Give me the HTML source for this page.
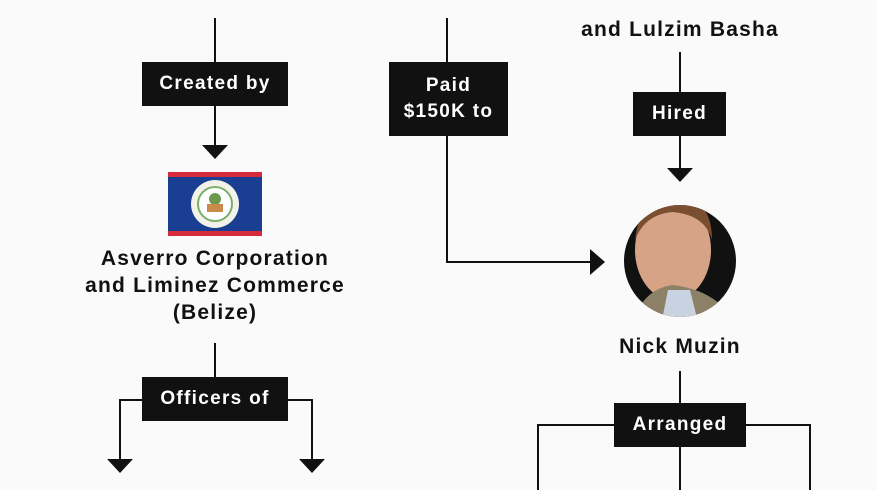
<!DOCTYPE html>
<html><head><style>
html,body{margin:0;padding:0;background:#fafafa;}
body{width:877px;height:490px;position:relative;overflow:hidden;font-family:"Liberation Sans",sans-serif;}
.t{position:absolute;font-weight:bold;font-size:21px;letter-spacing:1.2px;color:#111;text-align:center;line-height:27px;}
.b{position:absolute;background:#111;color:#fff;font-weight:bold;font-size:19px;letter-spacing:1.3px;display:flex;align-items:center;justify-content:center;text-align:center;line-height:26px;}
</style></head><body>
<svg width="877" height="490" style="position:absolute;left:0;top:0">
<g stroke="#111" stroke-width="2" fill="none">
<line x1="215" y1="18" x2="215" y2="62"/>
<line x1="215" y1="106" x2="215" y2="146"/>
<line x1="215" y1="343" x2="215" y2="377"/>
<polyline points="142,400 120,400 120,460"/>
<polyline points="288,400 312,400 312,460"/>
<line x1="447" y1="18" x2="447" y2="62"/>
<polyline points="447,136 447,262 592,262"/>
<line x1="680" y1="52" x2="680" y2="92"/>
<line x1="680" y1="136" x2="680" y2="170"/>
<line x1="680" y1="371" x2="680" y2="403"/>
<line x1="680" y1="447" x2="680" y2="490"/>
<polyline points="614,425 538,425 538,490"/>
<polyline points="746,425 810,425 810,490"/>
</g>
<g fill="#111">
<polygon points="202,145 228,145 215,159"/>
<polygon points="107,459 133,459 120,473"/>
<polygon points="299,459 325,459 312,473"/>
<polygon points="590,249 590,275 605,262"/>
<polygon points="667,168 693,168 680,182"/>
</g>
<rect x="168" y="172" width="94" height="64" fill="#d52b3a"/>
<rect x="168" y="177" width="94" height="54" fill="#1a3e92"/>
<circle cx="215" cy="204" r="24" fill="#f2f2ea"/>
<circle cx="215" cy="204" r="17" fill="#fff" stroke="#7bb06a" stroke-width="2"/>
<circle cx="215" cy="199" r="6" fill="#6a9a4a"/>
<rect x="207" y="204" width="16" height="8" fill="#c98a4a"/>
<defs><clipPath id="c"><circle cx="680" cy="261" r="56"/></clipPath></defs>
<circle cx="680" cy="261" r="56" fill="#111"/>
<g clip-path="url(#c)">
<ellipse cx="673" cy="250" rx="38" ry="50" fill="#d7a387"/>
<path d="M635 240 Q640 195 675 195 Q712 197 712 240 Q705 215 673 212 Q645 214 635 240Z" fill="#7a4e30"/>
<path d="M630 330 Q640 290 672 285 Q720 290 740 330Z" fill="#8c8066"/>
<path d="M660 330 L668 290 L690 290 L700 330Z" fill="#c9d2e0"/>
</g>
</svg>
<div class="b" style="left:142px;top:62px;width:146px;height:44px">Created by</div>
<div class="b" style="left:142px;top:377px;width:146px;height:44px">Officers of</div>
<div class="b" style="left:389px;top:62px;width:119px;height:74px">Paid<br>$150K to</div>
<div class="b" style="left:633px;top:92px;width:93px;height:44px">Hired</div>
<div class="b" style="left:614px;top:403px;width:132px;height:44px">Arranged</div>
<div class="t" style="left:40px;top:245px;width:350px">Asverro Corporation<br>and Liminez Commerce<br>(Belize)</div>
<div class="t" style="left:520px;top:16px;width:320px">and Lulzim Basha</div>
<div class="t" style="left:560px;top:333px;width:240px">Nick Muzin</div>
</body></html>
